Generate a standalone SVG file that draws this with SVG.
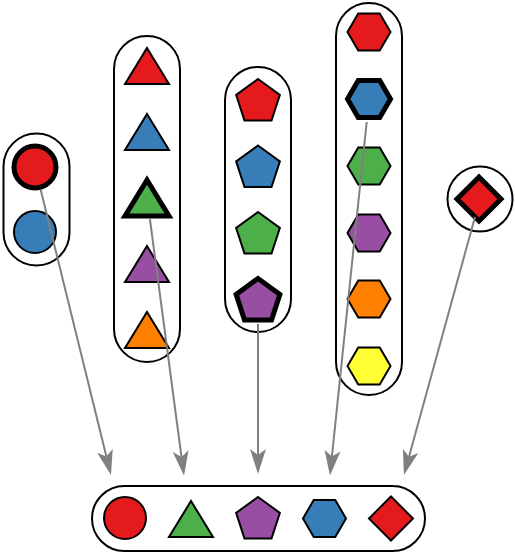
<svg xmlns="http://www.w3.org/2000/svg" xmlns:xlink="http://www.w3.org/1999/xlink" width="515" height="554" viewBox="0 0 515 554">
<style>
.pill{fill:#fff;stroke:#000;stroke-width:2}
.s{stroke:#000;stroke-width:2;stroke-linejoin:miter}
.hl{stroke:#000;stroke-width:5;stroke-linejoin:miter}
.r{fill:#e41a1c}.b{fill:#377eb8}.g{fill:#4daf4a}.p{fill:#984ea3}.o{fill:#ff7f00}.y{fill:#ffff33}
.c{stroke:#808080;stroke-width:2;fill:none}
</style>
<defs>
<polygon id="tri" points="0,-19 22,17 -22,17"/>
<polygon id="pent" points="0,-23 21.88,-7.11 13.52,18.61 -13.52,18.61 -21.88,-7.11"/>
<polygon id="hex" points="21.5,0 10.75,18.6 -10.75,18.6 -21.5,0 -10.75,-18.6 10.75,-18.6"/>
<polygon id="dia" points="0,-22 22,0 0,22 -22,0"/>
<marker id="ah" markerUnits="userSpaceOnUse" markerWidth="26" markerHeight="18" refX="6" refY="8" orient="auto" viewBox="0 0 26 16">
<path d="M0,0 L25,8 L0,16 L6,8 z" fill="#808080"/>
</marker>
</defs>
<g id="circles">
<rect class="pill" x="3.5" y="133.5" width="66" height="132" rx="33"/>
<circle class="hl r" cx="35" cy="167" r="21"/>
<circle class="s b" cx="35" cy="232" r="21"/>
</g>
<g id="triangles">
<rect class="pill" x="114" y="36" width="66" height="326" rx="33"/>
<use href="#tri" class="s r" x="147" y="67"/>
<use href="#tri" class="s b" x="147" y="133"/>
<use href="#tri" class="hl g" x="147" y="199"/>
<use href="#tri" class="s p" x="147" y="265"/>
<use href="#tri" class="s o" x="147" y="331"/>
</g>
<g id="pentagons">
<rect class="pill" x="225" y="67" width="66" height="265" rx="33"/>
<use href="#pent" class="s r" x="258" y="102"/>
<use href="#pent" class="s b" x="258" y="168.5"/>
<use href="#pent" class="s g" x="258" y="235"/>
<use href="#pent" class="hl p" x="258" y="301.5"/>
</g>
<g id="hexagons">
<rect class="pill" x="336" y="3" width="66" height="392" rx="33"/>
<use href="#hex" class="s r" x="369" y="32"/>
<use href="#hex" class="hl b" x="369" y="99"/>
<use href="#hex" class="s g" x="369" y="166"/>
<use href="#hex" class="s p" x="369" y="233"/>
<use href="#hex" class="s o" x="369" y="299"/>
<use href="#hex" class="s y" x="369" y="366"/>
</g>
<g id="diamonds">
<circle class="pill" cx="480" cy="199" r="32.5"/>
<use href="#dia" class="hl r" x="479" y="199"/>
</g>
<g id="result">
<rect class="pill" x="92" y="486" width="333" height="65" rx="32.5"/>
<circle class="s r" cx="125" cy="518" r="21"/>
<use href="#tri" class="s g" x="191" y="520"/>
<use href="#pent" class="s p" x="258" y="520"/>
<use href="#hex" class="s b" x="324.5" y="518.5"/>
<use href="#dia" class="s r" x="391" y="518.5"/>
</g>
<g id="connectors">
<line class="c" x1="40.7" y1="189.8" x2="106.4" y2="456.6" marker-end="url(#ah)"/>
<line class="c" x1="149.9" y1="219" x2="181.5" y2="457" marker-end="url(#ah)"/>
<line class="c" x1="258" y1="324" x2="258" y2="455" marker-end="url(#ah)"/>
<line class="c" x1="366.7" y1="122" x2="331.9" y2="456.6" marker-end="url(#ah)"/>
<line class="c" x1="475" y1="217" x2="409" y2="456.7" marker-end="url(#ah)"/>
</g>
</svg>
